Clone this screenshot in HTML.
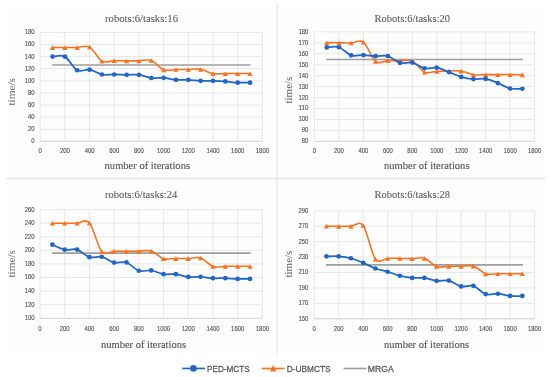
<!DOCTYPE html>
<html><head><meta charset="utf-8"><title>chart</title>
<style>
html,body{margin:0;padding:0;background:#fff;}
body{width:550px;height:377px;overflow:hidden;}
svg{display:block;}
.gr{stroke:#e7e7e7;stroke-width:1;}
.tk{font-family:"Liberation Sans",sans-serif;font-size:7px;fill:#505050;stroke:#505050;stroke-width:0.12px;}
.ti{font-family:"Liberation Serif",serif;font-size:11px;fill:#595959;stroke:#595959;stroke-width:0.08px;}
.at{font-family:"Liberation Serif",serif;font-size:11px;fill:#595959;stroke:#595959;stroke-width:0.15px;}
.yt{font-family:"Liberation Serif",serif;font-size:10.5px;fill:#666;}
.lg{font-family:"Liberation Sans",sans-serif;font-size:9.6px;fill:#595959;stroke:#595959;stroke-width:0.28px;}
</style></head><body>
<svg width="550" height="377" viewBox="0 0 550 377">
<rect width="550" height="377" fill="#fff"/>
<rect x="6.3" y="6.3" width="539.2" height="346.3" fill="#fdfdfd"/>
<line x1="277.2" y1="3.2" x2="277.2" y2="354.4" stroke="#e6e6e6" stroke-width="1.3"/>
<line x1="6.4" y1="178.5" x2="545.4" y2="178.5" stroke="#e6e6e6" stroke-width="1.3"/>
<g><line x1="40.2" y1="141.4" x2="262.4" y2="141.4" class="gr"/>
<text x="34.6" y="143.3" class="tk" text-anchor="end" textLength="3.3" lengthAdjust="spacingAndGlyphs">0</text>
<line x1="40.2" y1="129.29" x2="262.4" y2="129.29" class="gr"/>
<text x="34.6" y="131.19" class="tk" text-anchor="end" textLength="6.6" lengthAdjust="spacingAndGlyphs">20</text>
<line x1="40.2" y1="117.18" x2="262.4" y2="117.18" class="gr"/>
<text x="34.6" y="119.08" class="tk" text-anchor="end" textLength="6.6" lengthAdjust="spacingAndGlyphs">40</text>
<line x1="40.2" y1="105.07" x2="262.4" y2="105.07" class="gr"/>
<text x="34.6" y="106.97" class="tk" text-anchor="end" textLength="6.6" lengthAdjust="spacingAndGlyphs">60</text>
<line x1="40.2" y1="92.96" x2="262.4" y2="92.96" class="gr"/>
<text x="34.6" y="94.86" class="tk" text-anchor="end" textLength="6.6" lengthAdjust="spacingAndGlyphs">80</text>
<line x1="40.2" y1="80.84" x2="262.4" y2="80.84" class="gr"/>
<text x="34.6" y="82.74" class="tk" text-anchor="end" textLength="9.9" lengthAdjust="spacingAndGlyphs">100</text>
<line x1="40.2" y1="68.73" x2="262.4" y2="68.73" class="gr"/>
<text x="34.6" y="70.63" class="tk" text-anchor="end" textLength="9.9" lengthAdjust="spacingAndGlyphs">120</text>
<line x1="40.2" y1="56.62" x2="262.4" y2="56.62" class="gr"/>
<text x="34.6" y="58.52" class="tk" text-anchor="end" textLength="9.9" lengthAdjust="spacingAndGlyphs">140</text>
<line x1="40.2" y1="44.51" x2="262.4" y2="44.51" class="gr"/>
<text x="34.6" y="46.41" class="tk" text-anchor="end" textLength="9.9" lengthAdjust="spacingAndGlyphs">160</text>
<line x1="40.2" y1="32.4" x2="262.4" y2="32.4" class="gr"/>
<text x="34.6" y="34.3" class="tk" text-anchor="end" textLength="9.9" lengthAdjust="spacingAndGlyphs">180</text>
<line x1="40.2" y1="141.4" x2="262.4" y2="141.4" stroke="#d6d6d6" stroke-width="1"/>
<line x1="40.2" y1="32.4" x2="40.2" y2="141.4" class="gr"/>
<text x="40.2" y="153.2" class="tk" text-anchor="middle" textLength="3.3" lengthAdjust="spacingAndGlyphs">0</text>
<line x1="64.89" y1="32.4" x2="64.89" y2="141.4" class="gr"/>
<text x="64.89" y="153.2" class="tk" text-anchor="middle" textLength="9.9" lengthAdjust="spacingAndGlyphs">200</text>
<line x1="89.58" y1="32.4" x2="89.58" y2="141.4" class="gr"/>
<text x="89.58" y="153.2" class="tk" text-anchor="middle" textLength="9.9" lengthAdjust="spacingAndGlyphs">400</text>
<line x1="114.27" y1="32.4" x2="114.27" y2="141.4" class="gr"/>
<text x="114.27" y="153.2" class="tk" text-anchor="middle" textLength="9.9" lengthAdjust="spacingAndGlyphs">600</text>
<line x1="138.96" y1="32.4" x2="138.96" y2="141.4" class="gr"/>
<text x="138.96" y="153.2" class="tk" text-anchor="middle" textLength="9.9" lengthAdjust="spacingAndGlyphs">800</text>
<line x1="163.64" y1="32.4" x2="163.64" y2="141.4" class="gr"/>
<text x="163.64" y="153.2" class="tk" text-anchor="middle" textLength="13.2" lengthAdjust="spacingAndGlyphs">1000</text>
<line x1="188.33" y1="32.4" x2="188.33" y2="141.4" class="gr"/>
<text x="188.33" y="153.2" class="tk" text-anchor="middle" textLength="13.2" lengthAdjust="spacingAndGlyphs">1200</text>
<line x1="213.02" y1="32.4" x2="213.02" y2="141.4" class="gr"/>
<text x="213.02" y="153.2" class="tk" text-anchor="middle" textLength="13.2" lengthAdjust="spacingAndGlyphs">1400</text>
<line x1="237.71" y1="32.4" x2="237.71" y2="141.4" class="gr"/>
<text x="237.71" y="153.2" class="tk" text-anchor="middle" textLength="13.2" lengthAdjust="spacingAndGlyphs">1600</text>
<line x1="262.4" y1="32.4" x2="262.4" y2="141.4" class="gr"/>
<text x="262.4" y="153.2" class="tk" text-anchor="middle" textLength="13.2" lengthAdjust="spacingAndGlyphs">1800</text>
<line x1="52.14" y1="65" x2="250.66" y2="65" stroke="#9e9e9e" stroke-width="1.7"/>
<path d="M52.54,47.54 C54.6,47.54 60.77,47.54 64.89,47.54 C69,47.54 73.12,47.64 77.23,47.54 C81.35,47.44 85.46,44.66 89.58,46.93 C93.69,49.2 97.81,58.87 101.92,61.16 C106.04,63.45 110.15,60.73 114.27,60.68 C118.38,60.63 122.5,60.83 126.61,60.86 C130.73,60.89 134.84,60.93 138.96,60.86 C143.07,60.79 147.19,58.94 151.3,60.44 C155.41,61.93 159.53,68.32 163.64,69.82 C167.76,71.33 171.87,69.52 175.99,69.46 C180.1,69.4 184.22,69.48 188.33,69.46 C192.45,69.44 196.56,68.65 200.68,69.34 C204.79,70.03 208.91,72.87 213.02,73.58 C217.14,74.28 221.25,73.58 225.37,73.58 C229.48,73.58 233.6,73.58 237.71,73.58 C241.83,73.58 248,73.58 250.06,73.58" fill="none" stroke="#f9711c" stroke-width="1.55"/>
<path d="M52.54,45.34 l2.6,4.6 h-5.2z" fill="#f9711c"/>
<path d="M64.89,45.34 l2.6,4.6 h-5.2z" fill="#f9711c"/>
<path d="M77.23,45.34 l2.6,4.6 h-5.2z" fill="#f9711c"/>
<path d="M89.58,44.73 l2.6,4.6 h-5.2z" fill="#f9711c"/>
<path d="M101.92,58.96 l2.6,4.6 h-5.2z" fill="#f9711c"/>
<path d="M114.27,58.48 l2.6,4.6 h-5.2z" fill="#f9711c"/>
<path d="M126.61,58.66 l2.6,4.6 h-5.2z" fill="#f9711c"/>
<path d="M138.96,58.66 l2.6,4.6 h-5.2z" fill="#f9711c"/>
<path d="M151.3,58.24 l2.6,4.6 h-5.2z" fill="#f9711c"/>
<path d="M163.64,67.62 l2.6,4.6 h-5.2z" fill="#f9711c"/>
<path d="M175.99,67.26 l2.6,4.6 h-5.2z" fill="#f9711c"/>
<path d="M188.33,67.26 l2.6,4.6 h-5.2z" fill="#f9711c"/>
<path d="M200.68,67.14 l2.6,4.6 h-5.2z" fill="#f9711c"/>
<path d="M213.02,71.38 l2.6,4.6 h-5.2z" fill="#f9711c"/>
<path d="M225.37,71.38 l2.6,4.6 h-5.2z" fill="#f9711c"/>
<path d="M237.71,71.38 l2.6,4.6 h-5.2z" fill="#f9711c"/>
<path d="M250.06,71.38 l2.6,4.6 h-5.2z" fill="#f9711c"/>
<path d="M52.54,56.62 C54.6,56.62 60.77,54.35 64.89,56.62 C69,58.89 73.12,68.08 77.23,70.25 C81.35,72.42 85.46,68.94 89.58,69.64 C93.69,70.35 97.81,73.68 101.92,74.49 C106.04,75.29 110.15,74.44 114.27,74.49 C118.38,74.54 122.5,74.74 126.61,74.79 C130.73,74.84 134.84,74.25 138.96,74.79 C143.07,75.32 147.19,77.49 151.3,78 C155.41,78.5 159.53,77.51 163.64,77.82 C167.76,78.12 171.87,79.48 175.99,79.81 C180.1,80.15 184.22,79.64 188.33,79.81 C192.45,79.99 196.56,80.67 200.68,80.84 C204.79,81.02 208.91,80.74 213.02,80.84 C217.14,80.95 221.25,81.15 225.37,81.45 C229.48,81.75 233.6,82.46 237.71,82.66 C241.83,82.86 248,82.66 250.06,82.66" fill="none" stroke="#1f66c8" stroke-width="1.75"/>
<circle cx="52.54" cy="56.62" r="2.35" fill="#1f66c8"/>
<circle cx="64.89" cy="56.62" r="2.35" fill="#1f66c8"/>
<circle cx="77.23" cy="70.25" r="2.35" fill="#1f66c8"/>
<circle cx="89.58" cy="69.64" r="2.35" fill="#1f66c8"/>
<circle cx="101.92" cy="74.49" r="2.35" fill="#1f66c8"/>
<circle cx="114.27" cy="74.49" r="2.35" fill="#1f66c8"/>
<circle cx="126.61" cy="74.79" r="2.35" fill="#1f66c8"/>
<circle cx="138.96" cy="74.79" r="2.35" fill="#1f66c8"/>
<circle cx="151.3" cy="78" r="2.35" fill="#1f66c8"/>
<circle cx="163.64" cy="77.82" r="2.35" fill="#1f66c8"/>
<circle cx="175.99" cy="79.81" r="2.35" fill="#1f66c8"/>
<circle cx="188.33" cy="79.81" r="2.35" fill="#1f66c8"/>
<circle cx="200.68" cy="80.84" r="2.35" fill="#1f66c8"/>
<circle cx="213.02" cy="80.84" r="2.35" fill="#1f66c8"/>
<circle cx="225.37" cy="81.45" r="2.35" fill="#1f66c8"/>
<circle cx="237.71" cy="82.66" r="2.35" fill="#1f66c8"/>
<circle cx="250.06" cy="82.66" r="2.35" fill="#1f66c8"/>
<text x="105" y="22.4" class="ti" textLength="73" lengthAdjust="spacingAndGlyphs">robots:6/tasks:16</text>
<text x="104.6" y="168.7" class="at" textLength="85.4" lengthAdjust="spacingAndGlyphs">number of iterations</text>
<text transform="translate(14.5,105.6) rotate(-90)" x="0" y="0" class="yt" textLength="27.5" lengthAdjust="spacingAndGlyphs">time/s</text></g>
<g><line x1="314.5" y1="141.4" x2="534.6" y2="141.4" class="gr"/>
<text x="308.4" y="143.3" class="tk" text-anchor="end" textLength="6.6" lengthAdjust="spacingAndGlyphs">80</text>
<line x1="314.5" y1="130.45" x2="534.6" y2="130.45" class="gr"/>
<text x="308.4" y="132.35" class="tk" text-anchor="end" textLength="6.6" lengthAdjust="spacingAndGlyphs">90</text>
<line x1="314.5" y1="119.5" x2="534.6" y2="119.5" class="gr"/>
<text x="308.4" y="121.4" class="tk" text-anchor="end" textLength="9.9" lengthAdjust="spacingAndGlyphs">100</text>
<line x1="314.5" y1="108.55" x2="534.6" y2="108.55" class="gr"/>
<text x="308.4" y="110.45" class="tk" text-anchor="end" textLength="9.9" lengthAdjust="spacingAndGlyphs">110</text>
<line x1="314.5" y1="97.6" x2="534.6" y2="97.6" class="gr"/>
<text x="308.4" y="99.5" class="tk" text-anchor="end" textLength="9.9" lengthAdjust="spacingAndGlyphs">120</text>
<line x1="314.5" y1="86.65" x2="534.6" y2="86.65" class="gr"/>
<text x="308.4" y="88.55" class="tk" text-anchor="end" textLength="9.9" lengthAdjust="spacingAndGlyphs">130</text>
<line x1="314.5" y1="75.7" x2="534.6" y2="75.7" class="gr"/>
<text x="308.4" y="77.6" class="tk" text-anchor="end" textLength="9.9" lengthAdjust="spacingAndGlyphs">140</text>
<line x1="314.5" y1="64.75" x2="534.6" y2="64.75" class="gr"/>
<text x="308.4" y="66.65" class="tk" text-anchor="end" textLength="9.9" lengthAdjust="spacingAndGlyphs">150</text>
<line x1="314.5" y1="53.8" x2="534.6" y2="53.8" class="gr"/>
<text x="308.4" y="55.7" class="tk" text-anchor="end" textLength="9.9" lengthAdjust="spacingAndGlyphs">160</text>
<line x1="314.5" y1="42.85" x2="534.6" y2="42.85" class="gr"/>
<text x="308.4" y="44.75" class="tk" text-anchor="end" textLength="9.9" lengthAdjust="spacingAndGlyphs">170</text>
<line x1="314.5" y1="31.9" x2="534.6" y2="31.9" class="gr"/>
<text x="308.4" y="33.8" class="tk" text-anchor="end" textLength="9.9" lengthAdjust="spacingAndGlyphs">180</text>
<line x1="314.5" y1="141.4" x2="534.6" y2="141.4" stroke="#d6d6d6" stroke-width="1"/>
<line x1="314.5" y1="31.9" x2="314.5" y2="141.4" class="gr"/>
<text x="314.5" y="153.2" class="tk" text-anchor="middle" textLength="3.3" lengthAdjust="spacingAndGlyphs">0</text>
<line x1="338.96" y1="31.9" x2="338.96" y2="141.4" class="gr"/>
<text x="338.96" y="153.2" class="tk" text-anchor="middle" textLength="9.9" lengthAdjust="spacingAndGlyphs">200</text>
<line x1="363.41" y1="31.9" x2="363.41" y2="141.4" class="gr"/>
<text x="363.41" y="153.2" class="tk" text-anchor="middle" textLength="9.9" lengthAdjust="spacingAndGlyphs">400</text>
<line x1="387.87" y1="31.9" x2="387.87" y2="141.4" class="gr"/>
<text x="387.87" y="153.2" class="tk" text-anchor="middle" textLength="9.9" lengthAdjust="spacingAndGlyphs">600</text>
<line x1="412.32" y1="31.9" x2="412.32" y2="141.4" class="gr"/>
<text x="412.32" y="153.2" class="tk" text-anchor="middle" textLength="9.9" lengthAdjust="spacingAndGlyphs">800</text>
<line x1="436.78" y1="31.9" x2="436.78" y2="141.4" class="gr"/>
<text x="436.78" y="153.2" class="tk" text-anchor="middle" textLength="13.2" lengthAdjust="spacingAndGlyphs">1000</text>
<line x1="461.23" y1="31.9" x2="461.23" y2="141.4" class="gr"/>
<text x="461.23" y="153.2" class="tk" text-anchor="middle" textLength="13.2" lengthAdjust="spacingAndGlyphs">1200</text>
<line x1="485.69" y1="31.9" x2="485.69" y2="141.4" class="gr"/>
<text x="485.69" y="153.2" class="tk" text-anchor="middle" textLength="13.2" lengthAdjust="spacingAndGlyphs">1400</text>
<line x1="510.14" y1="31.9" x2="510.14" y2="141.4" class="gr"/>
<text x="510.14" y="153.2" class="tk" text-anchor="middle" textLength="13.2" lengthAdjust="spacingAndGlyphs">1600</text>
<line x1="534.6" y1="31.9" x2="534.6" y2="141.4" class="gr"/>
<text x="534.6" y="153.2" class="tk" text-anchor="middle" textLength="13.2" lengthAdjust="spacingAndGlyphs">1800</text>
<line x1="326.33" y1="59.48" x2="522.97" y2="59.48" stroke="#9e9e9e" stroke-width="1.7"/>
<path d="M326.73,42.63 C328.77,42.67 334.88,42.81 338.96,42.85 C343.03,42.89 347.11,42.96 351.18,42.85 C355.26,42.74 359.34,39.09 363.41,42.19 C367.49,45.3 371.56,58.38 375.64,61.47 C379.71,64.55 383.79,60.83 387.87,60.7 C391.94,60.57 396.02,60.63 400.09,60.7 C404.17,60.77 408.25,59.24 412.32,61.14 C416.4,63.03 420.47,70.37 424.55,72.09 C428.63,73.8 432.7,71.61 436.78,71.43 C440.85,71.25 444.93,71.06 449.01,70.99 C453.08,70.92 457.16,70.37 461.23,70.99 C465.31,71.61 469.39,74.11 473.46,74.71 C477.54,75.32 481.61,74.62 485.69,74.61 C489.76,74.59 493.84,74.61 497.92,74.61 C501.99,74.61 506.07,74.57 510.14,74.61 C514.22,74.64 520.33,74.79 522.37,74.82" fill="none" stroke="#f9711c" stroke-width="1.55"/>
<path d="M326.73,40.43 l2.6,4.6 h-5.2z" fill="#f9711c"/>
<path d="M338.96,40.65 l2.6,4.6 h-5.2z" fill="#f9711c"/>
<path d="M351.18,40.65 l2.6,4.6 h-5.2z" fill="#f9711c"/>
<path d="M363.41,39.99 l2.6,4.6 h-5.2z" fill="#f9711c"/>
<path d="M375.64,59.27 l2.6,4.6 h-5.2z" fill="#f9711c"/>
<path d="M387.87,58.5 l2.6,4.6 h-5.2z" fill="#f9711c"/>
<path d="M400.09,58.5 l2.6,4.6 h-5.2z" fill="#f9711c"/>
<path d="M412.32,58.94 l2.6,4.6 h-5.2z" fill="#f9711c"/>
<path d="M424.55,69.89 l2.6,4.6 h-5.2z" fill="#f9711c"/>
<path d="M436.78,69.23 l2.6,4.6 h-5.2z" fill="#f9711c"/>
<path d="M449.01,68.79 l2.6,4.6 h-5.2z" fill="#f9711c"/>
<path d="M461.23,68.79 l2.6,4.6 h-5.2z" fill="#f9711c"/>
<path d="M473.46,72.51 l2.6,4.6 h-5.2z" fill="#f9711c"/>
<path d="M485.69,72.41 l2.6,4.6 h-5.2z" fill="#f9711c"/>
<path d="M497.92,72.41 l2.6,4.6 h-5.2z" fill="#f9711c"/>
<path d="M510.14,72.41 l2.6,4.6 h-5.2z" fill="#f9711c"/>
<path d="M522.37,72.62 l2.6,4.6 h-5.2z" fill="#f9711c"/>
<path d="M326.73,47.45 C328.77,47.41 334.88,45.92 338.96,47.23 C343.03,48.54 347.11,54.02 351.18,55.33 C355.26,56.65 359.34,54.97 363.41,55.11 C367.49,55.26 371.56,56.06 375.64,56.21 C379.71,56.35 383.79,54.88 387.87,55.99 C391.94,57.1 396.02,61.79 400.09,62.89 C404.17,63.98 408.25,61.67 412.32,62.56 C416.4,63.45 420.47,67.4 424.55,68.25 C428.63,69.11 432.7,67.07 436.78,67.71 C440.85,68.35 444.93,70.55 449.01,72.09 C453.08,73.62 457.16,75.74 461.23,76.9 C465.31,78.07 469.39,78.77 473.46,79.09 C477.54,79.42 481.61,78.22 485.69,78.88 C489.76,79.53 493.84,81.43 497.92,83.04 C501.99,84.64 506.07,87.56 510.14,88.51 C514.22,89.46 520.33,88.69 522.37,88.73" fill="none" stroke="#1f66c8" stroke-width="1.75"/>
<circle cx="326.73" cy="47.45" r="2.35" fill="#1f66c8"/>
<circle cx="338.96" cy="47.23" r="2.35" fill="#1f66c8"/>
<circle cx="351.18" cy="55.33" r="2.35" fill="#1f66c8"/>
<circle cx="363.41" cy="55.11" r="2.35" fill="#1f66c8"/>
<circle cx="375.64" cy="56.21" r="2.35" fill="#1f66c8"/>
<circle cx="387.87" cy="55.99" r="2.35" fill="#1f66c8"/>
<circle cx="400.09" cy="62.89" r="2.35" fill="#1f66c8"/>
<circle cx="412.32" cy="62.56" r="2.35" fill="#1f66c8"/>
<circle cx="424.55" cy="68.25" r="2.35" fill="#1f66c8"/>
<circle cx="436.78" cy="67.71" r="2.35" fill="#1f66c8"/>
<circle cx="449.01" cy="72.09" r="2.35" fill="#1f66c8"/>
<circle cx="461.23" cy="76.9" r="2.35" fill="#1f66c8"/>
<circle cx="473.46" cy="79.09" r="2.35" fill="#1f66c8"/>
<circle cx="485.69" cy="78.88" r="2.35" fill="#1f66c8"/>
<circle cx="497.92" cy="83.04" r="2.35" fill="#1f66c8"/>
<circle cx="510.14" cy="88.51" r="2.35" fill="#1f66c8"/>
<circle cx="522.37" cy="88.73" r="2.35" fill="#1f66c8"/>
<text x="374.5" y="22.4" class="ti" textLength="75.5" lengthAdjust="spacingAndGlyphs">Robots:6/tasks:20</text>
<text x="384" y="168.7" class="at" textLength="85.5" lengthAdjust="spacingAndGlyphs">number of iterations</text>
<text transform="translate(291.9,103.6) rotate(-90)" x="0" y="0" class="yt" textLength="27" lengthAdjust="spacingAndGlyphs">time/s</text></g>
<g><line x1="40" y1="318.3" x2="262.4" y2="318.3" class="gr"/>
<text x="34.6" y="320.2" class="tk" text-anchor="end" textLength="9.9" lengthAdjust="spacingAndGlyphs">100</text>
<line x1="40" y1="304.71" x2="262.4" y2="304.71" class="gr"/>
<text x="34.6" y="306.61" class="tk" text-anchor="end" textLength="9.9" lengthAdjust="spacingAndGlyphs">120</text>
<line x1="40" y1="291.12" x2="262.4" y2="291.12" class="gr"/>
<text x="34.6" y="293.02" class="tk" text-anchor="end" textLength="9.9" lengthAdjust="spacingAndGlyphs">140</text>
<line x1="40" y1="277.54" x2="262.4" y2="277.54" class="gr"/>
<text x="34.6" y="279.44" class="tk" text-anchor="end" textLength="9.9" lengthAdjust="spacingAndGlyphs">160</text>
<line x1="40" y1="263.95" x2="262.4" y2="263.95" class="gr"/>
<text x="34.6" y="265.85" class="tk" text-anchor="end" textLength="9.9" lengthAdjust="spacingAndGlyphs">180</text>
<line x1="40" y1="250.36" x2="262.4" y2="250.36" class="gr"/>
<text x="34.6" y="252.26" class="tk" text-anchor="end" textLength="9.9" lengthAdjust="spacingAndGlyphs">200</text>
<line x1="40" y1="236.78" x2="262.4" y2="236.78" class="gr"/>
<text x="34.6" y="238.68" class="tk" text-anchor="end" textLength="9.9" lengthAdjust="spacingAndGlyphs">220</text>
<line x1="40" y1="223.19" x2="262.4" y2="223.19" class="gr"/>
<text x="34.6" y="225.09" class="tk" text-anchor="end" textLength="9.9" lengthAdjust="spacingAndGlyphs">240</text>
<line x1="40" y1="209.6" x2="262.4" y2="209.6" class="gr"/>
<text x="34.6" y="211.5" class="tk" text-anchor="end" textLength="9.9" lengthAdjust="spacingAndGlyphs">260</text>
<line x1="40" y1="318.3" x2="262.4" y2="318.3" stroke="#d6d6d6" stroke-width="1"/>
<line x1="40" y1="209.6" x2="40" y2="318.3" class="gr"/>
<text x="40" y="330.5" class="tk" text-anchor="middle" textLength="3.3" lengthAdjust="spacingAndGlyphs">0</text>
<line x1="64.71" y1="209.6" x2="64.71" y2="318.3" class="gr"/>
<text x="64.71" y="330.5" class="tk" text-anchor="middle" textLength="9.9" lengthAdjust="spacingAndGlyphs">200</text>
<line x1="89.42" y1="209.6" x2="89.42" y2="318.3" class="gr"/>
<text x="89.42" y="330.5" class="tk" text-anchor="middle" textLength="9.9" lengthAdjust="spacingAndGlyphs">400</text>
<line x1="114.13" y1="209.6" x2="114.13" y2="318.3" class="gr"/>
<text x="114.13" y="330.5" class="tk" text-anchor="middle" textLength="9.9" lengthAdjust="spacingAndGlyphs">600</text>
<line x1="138.84" y1="209.6" x2="138.84" y2="318.3" class="gr"/>
<text x="138.84" y="330.5" class="tk" text-anchor="middle" textLength="9.9" lengthAdjust="spacingAndGlyphs">800</text>
<line x1="163.56" y1="209.6" x2="163.56" y2="318.3" class="gr"/>
<text x="163.56" y="330.5" class="tk" text-anchor="middle" textLength="13.2" lengthAdjust="spacingAndGlyphs">1000</text>
<line x1="188.27" y1="209.6" x2="188.27" y2="318.3" class="gr"/>
<text x="188.27" y="330.5" class="tk" text-anchor="middle" textLength="13.2" lengthAdjust="spacingAndGlyphs">1200</text>
<line x1="212.98" y1="209.6" x2="212.98" y2="318.3" class="gr"/>
<text x="212.98" y="330.5" class="tk" text-anchor="middle" textLength="13.2" lengthAdjust="spacingAndGlyphs">1400</text>
<line x1="237.69" y1="209.6" x2="237.69" y2="318.3" class="gr"/>
<text x="237.69" y="330.5" class="tk" text-anchor="middle" textLength="13.2" lengthAdjust="spacingAndGlyphs">1600</text>
<line x1="262.4" y1="209.6" x2="262.4" y2="318.3" class="gr"/>
<text x="262.4" y="330.5" class="tk" text-anchor="middle" textLength="13.2" lengthAdjust="spacingAndGlyphs">1800</text>
<line x1="51.96" y1="253.14" x2="250.64" y2="253.14" stroke="#9e9e9e" stroke-width="1.7"/>
<path d="M52.36,223.19 C54.41,223.19 60.59,223.19 64.71,223.19 C68.83,223.19 72.95,223.23 77.07,223.19 C81.19,223.14 85.3,218.19 89.42,222.92 C93.54,227.64 97.66,246.8 101.78,251.52 C105.9,256.24 110.01,251.29 114.13,251.25 C118.25,251.2 122.37,251.25 126.49,251.25 C130.61,251.25 134.73,251.28 138.84,251.25 C142.96,251.21 147.08,249.81 151.2,251.04 C155.32,252.28 159.44,257.41 163.56,258.65 C167.67,259.9 171.79,258.54 175.91,258.51 C180.03,258.49 184.15,258.62 188.27,258.51 C192.39,258.41 196.5,256.58 200.62,257.9 C204.74,259.23 208.86,265.06 212.98,266.46 C217.1,267.87 221.21,266.35 225.33,266.33 C229.45,266.31 233.57,266.33 237.69,266.33 C241.81,266.33 247.99,266.33 250.04,266.33" fill="none" stroke="#f9711c" stroke-width="1.55"/>
<path d="M52.36,220.99 l2.6,4.6 h-5.2z" fill="#f9711c"/>
<path d="M64.71,220.99 l2.6,4.6 h-5.2z" fill="#f9711c"/>
<path d="M77.07,220.99 l2.6,4.6 h-5.2z" fill="#f9711c"/>
<path d="M89.42,220.72 l2.6,4.6 h-5.2z" fill="#f9711c"/>
<path d="M101.78,249.32 l2.6,4.6 h-5.2z" fill="#f9711c"/>
<path d="M114.13,249.05 l2.6,4.6 h-5.2z" fill="#f9711c"/>
<path d="M126.49,249.05 l2.6,4.6 h-5.2z" fill="#f9711c"/>
<path d="M138.84,249.05 l2.6,4.6 h-5.2z" fill="#f9711c"/>
<path d="M151.2,248.84 l2.6,4.6 h-5.2z" fill="#f9711c"/>
<path d="M163.56,256.45 l2.6,4.6 h-5.2z" fill="#f9711c"/>
<path d="M175.91,256.31 l2.6,4.6 h-5.2z" fill="#f9711c"/>
<path d="M188.27,256.31 l2.6,4.6 h-5.2z" fill="#f9711c"/>
<path d="M200.62,255.7 l2.6,4.6 h-5.2z" fill="#f9711c"/>
<path d="M212.98,264.26 l2.6,4.6 h-5.2z" fill="#f9711c"/>
<path d="M225.33,264.13 l2.6,4.6 h-5.2z" fill="#f9711c"/>
<path d="M237.69,264.13 l2.6,4.6 h-5.2z" fill="#f9711c"/>
<path d="M250.04,264.13 l2.6,4.6 h-5.2z" fill="#f9711c"/>
<path d="M52.36,244.72 C54.41,245.55 60.59,248.88 64.71,249.68 C68.83,250.49 72.95,248.3 77.07,249.55 C81.19,250.79 85.3,255.96 89.42,257.16 C93.54,258.36 97.66,255.84 101.78,256.75 C105.9,257.65 110.01,261.64 114.13,262.59 C118.25,263.54 122.37,261.1 126.49,262.46 C130.61,263.81 134.73,269.42 138.84,270.74 C142.96,272.07 147.08,269.84 151.2,270.4 C155.32,270.97 159.44,273.52 163.56,274.14 C167.67,274.76 171.79,273.68 175.91,274.14 C180.03,274.6 184.15,276.47 188.27,276.93 C192.39,277.38 196.5,276.64 200.62,276.86 C204.74,277.07 208.86,277.99 212.98,278.22 C217.1,278.44 221.21,278.1 225.33,278.22 C229.45,278.33 233.57,278.78 237.69,278.9 C241.81,279.01 247.99,278.9 250.04,278.9" fill="none" stroke="#1f66c8" stroke-width="1.75"/>
<circle cx="52.36" cy="244.72" r="2.35" fill="#1f66c8"/>
<circle cx="64.71" cy="249.68" r="2.35" fill="#1f66c8"/>
<circle cx="77.07" cy="249.55" r="2.35" fill="#1f66c8"/>
<circle cx="89.42" cy="257.16" r="2.35" fill="#1f66c8"/>
<circle cx="101.78" cy="256.75" r="2.35" fill="#1f66c8"/>
<circle cx="114.13" cy="262.59" r="2.35" fill="#1f66c8"/>
<circle cx="126.49" cy="262.46" r="2.35" fill="#1f66c8"/>
<circle cx="138.84" cy="270.74" r="2.35" fill="#1f66c8"/>
<circle cx="151.2" cy="270.4" r="2.35" fill="#1f66c8"/>
<circle cx="163.56" cy="274.14" r="2.35" fill="#1f66c8"/>
<circle cx="175.91" cy="274.14" r="2.35" fill="#1f66c8"/>
<circle cx="188.27" cy="276.93" r="2.35" fill="#1f66c8"/>
<circle cx="200.62" cy="276.86" r="2.35" fill="#1f66c8"/>
<circle cx="212.98" cy="278.22" r="2.35" fill="#1f66c8"/>
<circle cx="225.33" cy="278.22" r="2.35" fill="#1f66c8"/>
<circle cx="237.69" cy="278.9" r="2.35" fill="#1f66c8"/>
<circle cx="250.04" cy="278.9" r="2.35" fill="#1f66c8"/>
<text x="105" y="198" class="ti" textLength="72.4" lengthAdjust="spacingAndGlyphs">robots:6/tasks:24</text>
<text x="101" y="348" class="at" textLength="85" lengthAdjust="spacingAndGlyphs">number of iterations</text>
<text transform="translate(14.5,277.6) rotate(-90)" x="0" y="0" class="yt" textLength="27.5" lengthAdjust="spacingAndGlyphs">time/s</text></g>
<g><line x1="314.2" y1="318.8" x2="534.6" y2="318.8" class="gr"/>
<text x="308.4" y="320.7" class="tk" text-anchor="end" textLength="9.9" lengthAdjust="spacingAndGlyphs">150</text>
<line x1="314.2" y1="303.37" x2="534.6" y2="303.37" class="gr"/>
<text x="308.4" y="305.27" class="tk" text-anchor="end" textLength="9.9" lengthAdjust="spacingAndGlyphs">170</text>
<line x1="314.2" y1="287.94" x2="534.6" y2="287.94" class="gr"/>
<text x="308.4" y="289.84" class="tk" text-anchor="end" textLength="9.9" lengthAdjust="spacingAndGlyphs">190</text>
<line x1="314.2" y1="272.51" x2="534.6" y2="272.51" class="gr"/>
<text x="308.4" y="274.41" class="tk" text-anchor="end" textLength="9.9" lengthAdjust="spacingAndGlyphs">210</text>
<line x1="314.2" y1="257.09" x2="534.6" y2="257.09" class="gr"/>
<text x="308.4" y="258.99" class="tk" text-anchor="end" textLength="9.9" lengthAdjust="spacingAndGlyphs">230</text>
<line x1="314.2" y1="241.66" x2="534.6" y2="241.66" class="gr"/>
<text x="308.4" y="243.56" class="tk" text-anchor="end" textLength="9.9" lengthAdjust="spacingAndGlyphs">250</text>
<line x1="314.2" y1="226.23" x2="534.6" y2="226.23" class="gr"/>
<text x="308.4" y="228.13" class="tk" text-anchor="end" textLength="9.9" lengthAdjust="spacingAndGlyphs">270</text>
<line x1="314.2" y1="210.8" x2="534.6" y2="210.8" class="gr"/>
<text x="308.4" y="212.7" class="tk" text-anchor="end" textLength="9.9" lengthAdjust="spacingAndGlyphs">290</text>
<line x1="314.2" y1="318.8" x2="534.6" y2="318.8" stroke="#d6d6d6" stroke-width="1"/>
<line x1="314.2" y1="210.8" x2="314.2" y2="318.8" class="gr"/>
<text x="314.2" y="331.2" class="tk" text-anchor="middle" textLength="3.3" lengthAdjust="spacingAndGlyphs">0</text>
<line x1="338.69" y1="210.8" x2="338.69" y2="318.8" class="gr"/>
<text x="338.69" y="331.2" class="tk" text-anchor="middle" textLength="9.9" lengthAdjust="spacingAndGlyphs">200</text>
<line x1="363.18" y1="210.8" x2="363.18" y2="318.8" class="gr"/>
<text x="363.18" y="331.2" class="tk" text-anchor="middle" textLength="9.9" lengthAdjust="spacingAndGlyphs">400</text>
<line x1="387.67" y1="210.8" x2="387.67" y2="318.8" class="gr"/>
<text x="387.67" y="331.2" class="tk" text-anchor="middle" textLength="9.9" lengthAdjust="spacingAndGlyphs">600</text>
<line x1="412.16" y1="210.8" x2="412.16" y2="318.8" class="gr"/>
<text x="412.16" y="331.2" class="tk" text-anchor="middle" textLength="9.9" lengthAdjust="spacingAndGlyphs">800</text>
<line x1="436.64" y1="210.8" x2="436.64" y2="318.8" class="gr"/>
<text x="436.64" y="331.2" class="tk" text-anchor="middle" textLength="13.2" lengthAdjust="spacingAndGlyphs">1000</text>
<line x1="461.13" y1="210.8" x2="461.13" y2="318.8" class="gr"/>
<text x="461.13" y="331.2" class="tk" text-anchor="middle" textLength="13.2" lengthAdjust="spacingAndGlyphs">1200</text>
<line x1="485.62" y1="210.8" x2="485.62" y2="318.8" class="gr"/>
<text x="485.62" y="331.2" class="tk" text-anchor="middle" textLength="13.2" lengthAdjust="spacingAndGlyphs">1400</text>
<line x1="510.11" y1="210.8" x2="510.11" y2="318.8" class="gr"/>
<text x="510.11" y="331.2" class="tk" text-anchor="middle" textLength="13.2" lengthAdjust="spacingAndGlyphs">1600</text>
<line x1="534.6" y1="210.8" x2="534.6" y2="318.8" class="gr"/>
<text x="534.6" y="331.2" class="tk" text-anchor="middle" textLength="13.2" lengthAdjust="spacingAndGlyphs">1800</text>
<line x1="326.04" y1="264.85" x2="522.96" y2="264.85" stroke="#9e9e9e" stroke-width="1.7"/>
<path d="M326.44,226.07 C328.49,226.1 334.61,226.2 338.69,226.23 C342.77,226.25 346.85,226.36 350.93,226.23 C355.01,226.1 359.1,219.98 363.18,225.46 C367.26,230.93 371.34,253.6 375.42,259.09 C379.5,264.58 383.59,258.51 387.67,258.4 C391.75,258.28 395.83,258.36 399.91,258.4 C403.99,258.44 408.07,258.65 412.16,258.63 C416.24,258.6 420.32,256.94 424.4,258.24 C428.48,259.54 432.56,265.08 436.64,266.42 C440.73,267.76 444.81,266.28 448.89,266.27 C452.97,266.25 457.05,266.38 461.13,266.34 C465.21,266.3 469.3,264.79 473.38,266.03 C477.46,267.28 481.54,272.55 485.62,273.83 C489.7,275.1 493.79,273.7 497.87,273.67 C501.95,273.65 506.03,273.67 510.11,273.67 C514.19,273.67 520.31,273.67 522.36,273.67" fill="none" stroke="#f9711c" stroke-width="1.55"/>
<path d="M326.44,223.87 l2.6,4.6 h-5.2z" fill="#f9711c"/>
<path d="M338.69,224.03 l2.6,4.6 h-5.2z" fill="#f9711c"/>
<path d="M350.93,224.03 l2.6,4.6 h-5.2z" fill="#f9711c"/>
<path d="M363.18,223.26 l2.6,4.6 h-5.2z" fill="#f9711c"/>
<path d="M375.42,256.89 l2.6,4.6 h-5.2z" fill="#f9711c"/>
<path d="M387.67,256.2 l2.6,4.6 h-5.2z" fill="#f9711c"/>
<path d="M399.91,256.2 l2.6,4.6 h-5.2z" fill="#f9711c"/>
<path d="M412.16,256.43 l2.6,4.6 h-5.2z" fill="#f9711c"/>
<path d="M424.4,256.04 l2.6,4.6 h-5.2z" fill="#f9711c"/>
<path d="M436.64,264.22 l2.6,4.6 h-5.2z" fill="#f9711c"/>
<path d="M448.89,264.07 l2.6,4.6 h-5.2z" fill="#f9711c"/>
<path d="M461.13,264.14 l2.6,4.6 h-5.2z" fill="#f9711c"/>
<path d="M473.38,263.83 l2.6,4.6 h-5.2z" fill="#f9711c"/>
<path d="M485.62,271.63 l2.6,4.6 h-5.2z" fill="#f9711c"/>
<path d="M497.87,271.47 l2.6,4.6 h-5.2z" fill="#f9711c"/>
<path d="M510.11,271.47 l2.6,4.6 h-5.2z" fill="#f9711c"/>
<path d="M522.36,271.47 l2.6,4.6 h-5.2z" fill="#f9711c"/>
<path d="M326.44,256.31 C328.49,256.31 334.61,255.99 338.69,256.31 C342.77,256.64 346.85,257.16 350.93,258.24 C355.01,259.32 359.1,261.08 363.18,262.79 C367.26,264.5 371.34,267.01 375.42,268.5 C379.5,269.99 383.59,270.53 387.67,271.74 C391.75,272.95 395.83,274.73 399.91,275.75 C403.99,276.78 408.07,277.55 412.16,277.91 C416.24,278.27 420.32,277.43 424.4,277.91 C428.48,278.4 432.56,280.4 436.64,280.85 C440.73,281.3 444.81,279.69 448.89,280.61 C452.97,281.54 457.05,285.53 461.13,286.4 C465.21,287.27 469.3,284.57 473.38,285.86 C477.46,287.15 481.54,292.8 485.62,294.11 C489.7,295.43 493.79,293.42 497.87,293.73 C501.95,294.04 506.03,295.59 510.11,295.97 C514.19,296.34 520.31,295.97 522.36,295.97" fill="none" stroke="#1f66c8" stroke-width="1.75"/>
<circle cx="326.44" cy="256.31" r="2.35" fill="#1f66c8"/>
<circle cx="338.69" cy="256.31" r="2.35" fill="#1f66c8"/>
<circle cx="350.93" cy="258.24" r="2.35" fill="#1f66c8"/>
<circle cx="363.18" cy="262.79" r="2.35" fill="#1f66c8"/>
<circle cx="375.42" cy="268.5" r="2.35" fill="#1f66c8"/>
<circle cx="387.67" cy="271.74" r="2.35" fill="#1f66c8"/>
<circle cx="399.91" cy="275.75" r="2.35" fill="#1f66c8"/>
<circle cx="412.16" cy="277.91" r="2.35" fill="#1f66c8"/>
<circle cx="424.4" cy="277.91" r="2.35" fill="#1f66c8"/>
<circle cx="436.64" cy="280.85" r="2.35" fill="#1f66c8"/>
<circle cx="448.89" cy="280.61" r="2.35" fill="#1f66c8"/>
<circle cx="461.13" cy="286.4" r="2.35" fill="#1f66c8"/>
<circle cx="473.38" cy="285.86" r="2.35" fill="#1f66c8"/>
<circle cx="485.62" cy="294.11" r="2.35" fill="#1f66c8"/>
<circle cx="497.87" cy="293.73" r="2.35" fill="#1f66c8"/>
<circle cx="510.11" cy="295.97" r="2.35" fill="#1f66c8"/>
<circle cx="522.36" cy="295.97" r="2.35" fill="#1f66c8"/>
<text x="374.5" y="198.2" class="ti" textLength="75.5" lengthAdjust="spacingAndGlyphs">Robots:6/tasks:28</text>
<text x="384" y="348" class="at" textLength="85.1" lengthAdjust="spacingAndGlyphs">number of iterations</text>
<text transform="translate(291.9,277.6) rotate(-90)" x="0" y="0" class="yt" textLength="27" lengthAdjust="spacingAndGlyphs">time/s</text></g>

<line x1="182.2" y1="368.45" x2="205" y2="368.45" stroke="#1f66c8" stroke-width="1.65"/>
<circle cx="193.4" cy="368.4" r="3.3" fill="#1f66c8"/>
<text x="207.1" y="371.5" class="lg" textLength="42.6" lengthAdjust="spacingAndGlyphs">PED-MCTS</text>
<line x1="261.8" y1="368.5" x2="284.5" y2="368.5" stroke="#f9711c" stroke-width="1.65"/>
<path d="M273.2,365.0 l3.2,6.6 h-6.4z" fill="#f9711c"/>
<text x="286.7" y="371.5" class="lg" textLength="43.9" lengthAdjust="spacingAndGlyphs">D-UBMCTS</text>
<line x1="343.6" y1="368.5" x2="366.4" y2="368.5" stroke="#9e9e9e" stroke-width="1.65"/>
<text x="367.7" y="371.5" class="lg" textLength="26" lengthAdjust="spacingAndGlyphs">MRGA</text>

</svg>
</body></html>
